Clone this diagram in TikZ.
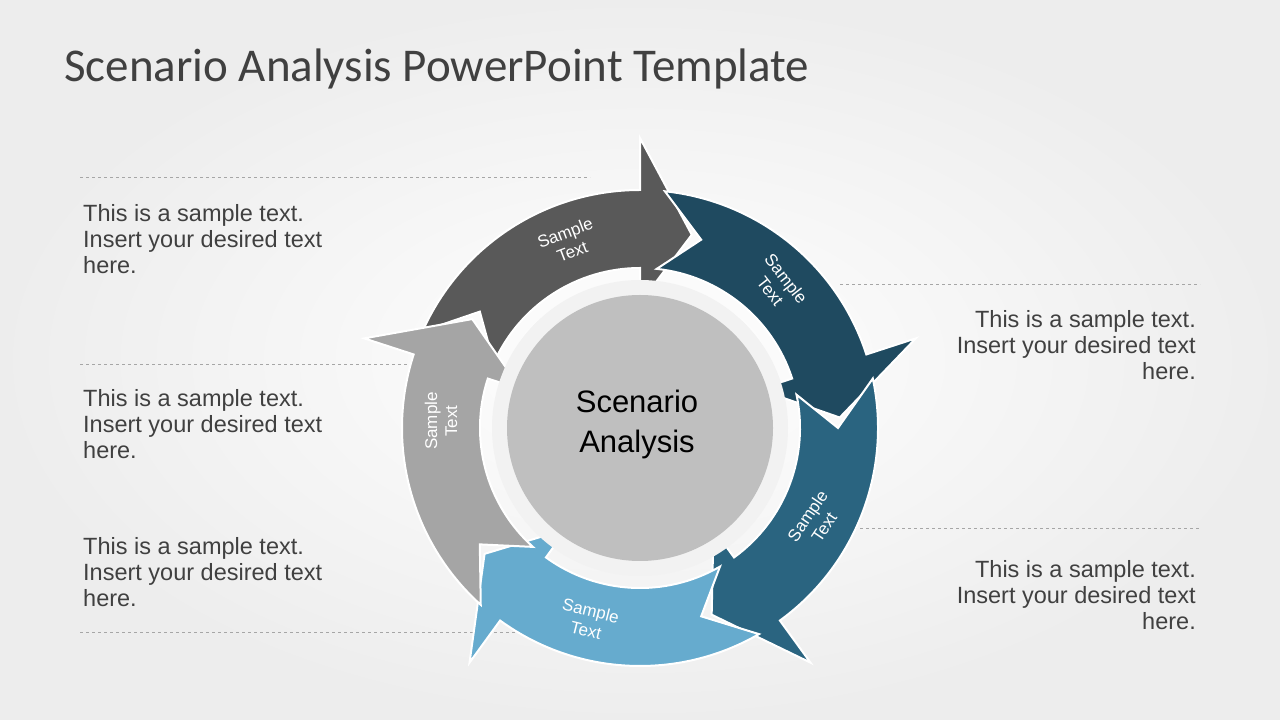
\documentclass[tikz,border=0pt]{standalone}
\usepackage{fontspec}
\setmainfont{Liberation Sans}
\newfontfamily\titlefont{Carlito}
\definecolor{cTop}{HTML}{595959}
\definecolor{cNavy}{HTML}{1F4A60}
\definecolor{cTeal}{HTML}{2A6480}
\definecolor{cLight}{HTML}{66ABCE}
\definecolor{cGray}{HTML}{A5A5A5}
\definecolor{cTxt}{HTML}{404040}
\definecolor{cBg}{HTML}{F2F2F2}
\tikzset{
  body/.style={font=\fontsize{23.5}{26}\selectfont, text=cTxt, inner sep=0pt},
  lbl/.style={font=\fontsize{17}{20}\selectfont, text=white, align=center, inner sep=0pt},
  sep/.style={draw=gray!70, dashed, line width=0.6pt}
}
\newcommand{\cyclearrow}[2]{%
  \pgfmathsetmacro{\H}{#1}\pgfmathsetmacro{\T}{#1+66}%
  \pgfmathsetmacro{\Tip}{#1-15}\pgfmathsetmacro{\Nt}{#1+54}%
  \fill[#2, draw=white, line width=2pt, line join=miter]
   (\T:160) arc[start angle=\T, end angle=\H, radius=160]
   -- (\H:125) -- (\Tip:200) -- (\H:290) -- (\H:238)
   arc[start angle=\H, end angle=\T, radius=238] -- (\Nt:198) -- cycle;}
\begin{document}
\begin{tikzpicture}[x=1pt,y=1pt]
\useasboundingbox (0,0) rectangle (1280,720);
\shade[inner color=white, outer color=gray!14] (0,0) rectangle (1280,720);
\node[anchor=base west, font=\titlefont\fontsize{47}{50}\selectfont, text=cTxt, inner sep=0pt] (title) at (64,638) {Scenario Analysis PowerPoint Template};
\draw[sep] (80,543) coordinate (l1a) -- (590,543) coordinate (l1b);
\draw[sep] (80,356) coordinate (l2a) -- (410,356) coordinate (l2b);
\draw[sep] (80,88) coordinate (l3a) -- (590,88) coordinate (l3b);
\draw[sep] (840,436) coordinate (r1a) -- (1200,436) coordinate (r1b);
\draw[sep] (830,192) coordinate (r2a) -- (1200,192) coordinate (r2b);
\node[body, anchor=north west, align=left] (t1) at (83,516) {This is a sample text.\\Insert your desired text\\here.};
\node[body, anchor=north west, align=left] (t2) at (83,331) {This is a sample text.\\Insert your desired text\\here.};
\node[body, anchor=north west, align=left] (t3) at (83,183) {This is a sample text.\\Insert your desired text\\here.};
\node[body, anchor=north east, align=right] (t4) at (1196,410) {This is a sample text.\\Insert your desired text\\here.};
\node[body, anchor=north east, align=right] (t5) at (1196,160) {This is a sample text.\\Insert your desired text\\here.};
\begin{scope}[shift={(640,292)}]
\cyclearrow{90}{cTop}
\cyclearrow{18}{cNavy}
\cyclearrow{-54}{cTeal}
\cyclearrow{-126}{cLight}
\cyclearrow{162}{cGray}
\fill[cBg] (0,0) circle (148);
\fill[gray!50] (0,0) circle (133);
\node[font=\fontsize{31}{40}\selectfont, align=center, text=black] (center) at (-3,4) {Scenario\\Analysis};
\node[lbl, rotate=21] (a1) at (111:199) {Sample\\Text};
\node[lbl, rotate=-52] (a2) at (46:199) {Sample\\Text};
\node[lbl, rotate=56] (a3) at (-28:199) {Sample\\Text};
\node[lbl, rotate=-14] (a4) at (255:199) {Sample\\Text};
\node[lbl, rotate=90] (a5) at (178:199) {Sample\\Text};
\end{scope}
\end{tikzpicture}
\end{document}
